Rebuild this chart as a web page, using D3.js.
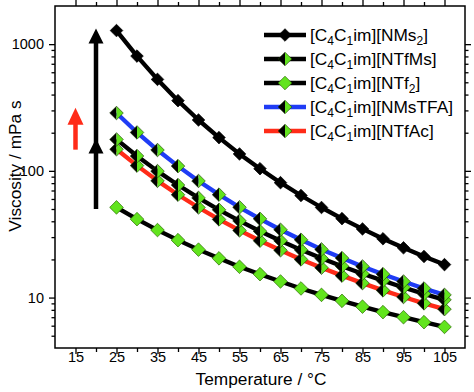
<!DOCTYPE html>
<html><head><meta charset="utf-8">
<script src="https://cdn.jsdelivr.net/npm/d3@7"></script>
<style>html,body{margin:0;padding:0;background:#fff}svg{display:block;font-family:"Liberation Sans",Arial,sans-serif}</style>
</head><body>
<svg id="c" width="474" height="392"></svg>
<script>
const temps = [25,30,35,40,45,50,55,60,65,70,75,80,85,90,95,100,105];
const nms2   = [1280,805,527,358,252,183,136,104,80.7,63.9,51.4,42.0,34.8,29.1,24.7,21.1,18.2];
const ntfms  = [177,131,99.5,77.3,61.2,49.3,40.3,33.4,28.1,23.8,20.4,17.7,15.4,13.6,12.0,10.7,9.6];
const ntf2   = [51.5,41.6,34.1,28.4,23.9,20.4,17.5,15.3,13.4,11.8,10.5,9.42,8.48,7.68,7.00,6.40,5.87];
const nmstfa = [286,201,146,109,83.2,64.9,51.6,41.8,34.3,28.6,24.0,20.5,17.6,15.3,13.4,11.8,10.5];
const ntfac  = [148,110,83.4,64.8,51.4,41.4,33.9,28.1,23.6,20.0,17.2,14.9,13.0,11.4,10.1,9.0,8.1];
const seriesNames = ["NMs2","NTfMs","NTf2","NMsTFA","NTfAc"];
const xMajor = [15,25,35,45,55,65,75,85,95,105];
const xMinor = [20,30,40,50,60,70,80,90,100];
const yMajor = [10,100,1000];
const yMinor = [5,6,7,8,9,20,30,40,50,60,70,80,90,200,300,400,500,600,700,800,900];
// arrows (annotation, data coords)
const blackArrow = {t:20, from:50, mid:180, to:1330};
const redArrow = {t:15, from:147, to:315};

const GREEN="#62e41e", BLUE="#1f3cf5", RED="#ff2b18";
const series = [
  {name:"NMs2", vals:nms2, line:"#000", marker:"black"},
  {name:"NTfMs", vals:ntfms, line:"#000", marker:"half"},
  {name:"NTf2", vals:ntf2, line:"#000", marker:"green"},
  {name:"NMsTFA", vals:nmstfa, line:BLUE, marker:"half"},
  {name:"NTfAc", vals:ntfac, line:RED, marker:"half"}
];

const svg = d3.select("#c");
const L=55,R=465,T=6,B=348;
const x = d3.scaleLinear().domain([10,110]).range([L,R]);
const y = d3.scaleLog().domain([4,2000]).range([B,T]);

// frame
svg.append("rect").attr("x",L).attr("y",T).attr("width",R-L).attr("height",B-T)
  .attr("fill","none").attr("stroke","#000").attr("stroke-width",1.5);

function styleAxis(g){ g.select(".domain").remove(); g.selectAll(".tick line").attr("stroke","#000").attr("stroke-width",1.3); }
// bottom
const gb = svg.append("g").attr("transform",`translate(0,${B})`)
  .call(d3.axisBottom(x).tickValues(xMajor).tickSize(6).tickFormat(d3.format("d")));
styleAxis(gb);
gb.selectAll("text").attr("font-size",14.5).attr("fill","#000")
  .attr("font-family","Liberation Sans, Arial, sans-serif").attr("y",4).attr("dy","0.71em");
const gbm = svg.append("g").attr("transform",`translate(0,${B})`)
  .call(d3.axisBottom(x).tickValues(xMinor).tickSize(4).tickFormat(""));
styleAxis(gbm);
// top
const gt = svg.append("g").attr("transform",`translate(0,${T})`)
  .call(d3.axisTop(x).tickValues(xMajor).tickSize(6).tickFormat(""));
styleAxis(gt);
const gtm = svg.append("g").attr("transform",`translate(0,${T})`)
  .call(d3.axisTop(x).tickValues(xMinor).tickSize(4).tickFormat(""));
styleAxis(gtm);
// left
const gl = svg.append("g").attr("transform",`translate(${L},0)`)
  .call(d3.axisLeft(y).tickValues(yMajor).tickSize(6).tickPadding(5).tickFormat(d3.format("d")));
styleAxis(gl);
gl.selectAll("text").attr("font-size",14.5).attr("fill","#000").attr("font-family","Liberation Sans, Arial, sans-serif");
const glm = svg.append("g").attr("transform",`translate(${L},0)`)
  .call(d3.axisLeft(y).tickValues(yMinor).tickSize(3.5).tickFormat(""));
styleAxis(glm);
// right
const gr = svg.append("g").attr("transform",`translate(${R},0)`)
  .call(d3.axisRight(y).tickValues(yMajor).tickSize(6).tickFormat(""));
styleAxis(gr);
const grm = svg.append("g").attr("transform",`translate(${R},0)`)
  .call(d3.axisRight(y).tickValues(yMinor).tickSize(3.5).tickFormat(""));
styleAxis(grm);

// titles
svg.append("text").attr("x",(L+R)/2+1).attr("y",385).attr("text-anchor","middle")
  .attr("font-size",17.3).text("Temperature / °C");
svg.append("text").attr("transform","translate(21,166) rotate(-90)").attr("text-anchor","middle")
  .attr("font-size",17.3).text("Viscosity / mPa s");

// arrows
function arrow(xv, y0, y1, color, shaftW, headW, headH){
  const px=x(xv), pb=y(y0), pt=y(y1);
  svg.append("rect").attr("x",px-shaftW/2).attr("y",pt+headH-1).attr("width",shaftW).attr("height",pb-pt-headH+1).attr("fill",color);
  svg.append("path").attr("d",`M${px},${pt}L${px+headW/2},${pt+headH}L${px-headW/2},${pt+headH}Z`).attr("fill",color);
}
function head(xv, yv, color, headW, headH){
  const px=x(xv), pt=y(yv);
  svg.append("path").attr("d",`M${px},${pt}L${px+headW/2},${pt+headH}L${px-headW/2},${pt+headH}Z`).attr("fill",color);
}
arrow(blackArrow.t, blackArrow.from, blackArrow.to, "#000", 4.5, 15, 15);
head(blackArrow.t, blackArrow.mid, "#000", 15, 15);
arrow(redArrow.t, redArrow.from, redArrow.to, RED, 4.5, 16, 17);

// lines
const line = d3.line().x((d,i)=>x(temps[i])).y(d=>y(d));
const drawOrder = [0,2,4,1,3];
drawOrder.forEach(k=>{
  const s=series[k];
  svg.append("path").datum(s.vals).attr("d",line).attr("fill","none")
    .attr("stroke",s.line).attr("stroke-width",4.3).attr("stroke-linejoin","round");
});
function marker(g, cx, cy, type){
  const r = type==="black"?6.3:6.8;
  if(type==="half"){
    g.append("path").attr("d",`M${cx},${cy-r}L${cx},${cy+r}L${cx-r},${cy}Z`).attr("fill","#000");
    g.append("path").attr("d",`M${cx},${cy-r}L${cx+r},${cy}L${cx},${cy+r}Z`).attr("fill",GREEN);
    g.append("path").attr("d",`M${cx},${cy-r}L${cx+r},${cy}L${cx},${cy+r}L${cx-r},${cy}Z`).attr("fill","none").attr("stroke","#1a3a00").attr("stroke-width",0.6);
  } else {
    g.append("path").attr("d",`M${cx},${cy-r}L${cx+r},${cy}L${cx},${cy+r}L${cx-r},${cy}Z`)
      .attr("fill",type==="black"?"#000":GREEN).attr("stroke",type==="black"?"#000":"#2a6a00").attr("stroke-width",0.7);
  }
}
drawOrder.forEach(k=>{
  const s=series[k]; const g=svg.append("g");
  s.vals.forEach((v,i)=>marker(g, x(temps[i]), y(v), s.marker));
});

// legend
const legY=[35,59,83,107,131];
const subs=[["NMs","2","]"],["NTfMs","",""],["NTf","2","]"],["NMsTFA","",""],["NTfAc","",""]];
series.forEach((s,i)=>{
  const yy=legY[i];
  svg.append("line").attr("x1",264).attr("x2",306).attr("y1",yy).attr("y2",yy).attr("stroke",s.line).attr("stroke-width",4.3);
  marker(svg.append("g"),285,yy,s.marker);
  const t=svg.append("text").attr("x",310).attr("y",yy+6).attr("font-size",17.3);
  t.append("tspan").text("[C");
  t.append("tspan").attr("font-size",12).attr("dy",4).text("4");
  t.append("tspan").attr("dy",-4).text("C");
  t.append("tspan").attr("font-size",12).attr("dy",4).text("1");
  t.append("tspan").attr("dy",-4).text("im][" + subs[i][0] + (subs[i][1]?"":"]"));
  if(subs[i][1]){
    t.append("tspan").attr("font-size",12).attr("dy",4).text(subs[i][1]);
    t.append("tspan").attr("dy",-4).text("]");
  }
});
</script>
</body></html>
